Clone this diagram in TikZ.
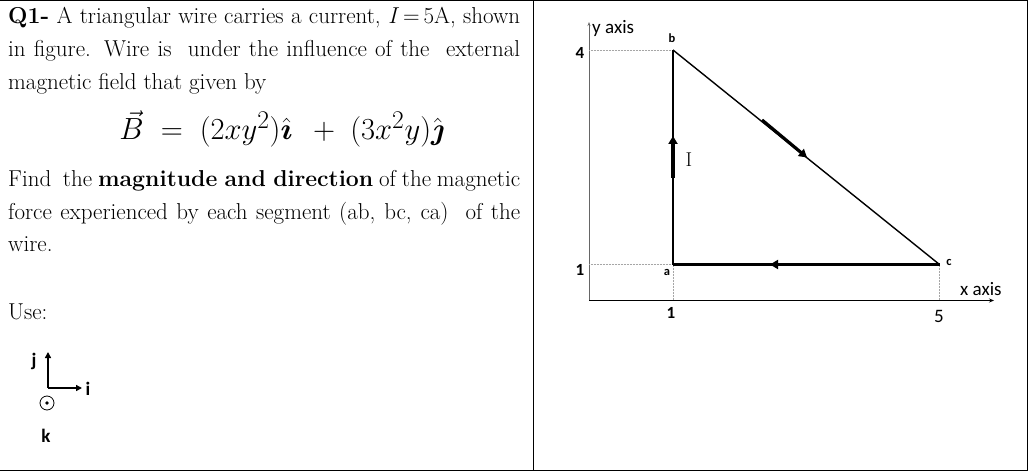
\documentclass[tikz,border=0pt]{standalone}
\usepackage{amsmath}
\usepackage{graphicx}
\usepackage{fontspec}
\newfontfamily\calfont{Carlito}
\usetikzlibrary{arrows.meta}
\newcommand\jline[1]{\hbox to 512pt{#1}}
\begin{document}
\begin{tikzpicture}[x=1pt,y=-1pt,
  ln/.style={anchor=base west,inner sep=0pt,font=\fontsize{23}{33}\selectfont},
  lab/.style={inner sep=0pt,font=\calfont\fontsize{19}{22}\selectfont},
  num/.style={inner sep=0pt,font=\calfont\bfseries\fontsize{17}{20}\selectfont},
  uv/.style={inner sep=0pt,font=\calfont\bfseries\fontsize{19}{22}\selectfont},
  vlab/.style={inner sep=0pt,font=\calfont\bfseries\fontsize{12.5}{14}\selectfont},
  guide/.style={gray!70,densely dotted,line width=0.5pt},
  wire/.style={line width=1.4pt},
  flow/.style={line width=3.2pt,-{Triangle[length=8pt,width=9pt]}},
  tbl/.style={line width=1pt}]
\useasboundingbox (0,0) rectangle (1030,473);
% table
\draw[tbl] (0,1) -- (1027.5,1) -- (1027.5,470.5) -- (0,470.5);
\draw[tbl] (533,1) -- (533,470.5);
% left text
\node[ln] (l1) at (8,24) {\jline{\textbf{Q1-} A triangular wire carries a current, \textit{I}\,=\,5A, shown}};
\node[ln] (l2) at (8,57) {\jline{in figure. Wire is \ under the influence of the \ external}};
\node[ln] (l3) at (8,90) {magnetic field that given by};
\node[anchor=base,inner sep=0pt,font=\fontsize{24.88}{30}\selectfont] (eq) at (282,140)
  {\scalebox{1.23}{$\vec{B}\;=\;(2xy^2)\hat{\boldsymbol{\imath}}\;\,+\;(3x^2y)\hat{\boldsymbol{\jmath}}$}};
\node[ln] (l4) at (8,187) {\jline{Find \ the \textbf{magnitude and direction} of the magnetic}};
\node[ln] (l5) at (8,219) {\jline{force experienced by each segment (ab, bc, ca) \ of the}};
\node[ln] (l6) at (8,251) {wire.};
\node[ln] (l7) at (8,319) {Use:};
% unit vectors
\coordinate (o) at (48,388);
\coordinate (jt) at (48,352);
\coordinate (it) at (82,388);
\draw[line width=2pt,-{Triangle[length=6pt,width=6pt]}] (o) -- (jt);
\draw[line width=2pt,-{Triangle[length=6pt,width=6pt]}] (o) -- (it);
\node[uv] (jl) at (34,361) {j};
\node[uv] (il) at (88,389) {i};
\node[draw,circle,line width=0.8pt,minimum size=14pt,inner sep=0pt] (kc) at (47,403) {};
\fill (kc.center) circle (1.8pt);
\node[uv] (kl) at (46,436) {k};
% axes
\coordinate (O) at (589,300.5);
\coordinate (ytip) at (589,22);
\coordinate (xtip) at (994,300.5);
\draw[gray!80!black,line width=0.8pt,-{Stealth[length=4pt,width=3pt]}] (O) -- (ytip);
\draw[line width=1pt,-{Stealth[length=5pt,width=4pt]}] (O) -- (xtip);
\node[lab,anchor=west] (ylab) at (592,28) {y axis};
\node[lab,anchor=west] (xlab) at (960,289) {x axis};
% triangle vertices
\coordinate (a) at (673,264.5);
\coordinate (b) at (673,50);
\coordinate (c) at (939.5,264.5);
\coordinate (y4) at (589,50);
\coordinate (y1) at (589,264.5);
\coordinate (x1) at (673,300.5);
\coordinate (x5) at (939.5,300.5);
\draw[guide] (y4) -- (b);
\draw[guide] (y1) -- (a);
\draw[guide] (a) -- (x1);
\draw[guide] (c) -- (x5);
\node[num] (n4) at (580,53) {4};
\node[num] (n1y) at (580,270) {1};
\node[num] (n1x) at (671,313) {1};
\node[lab] (n5) at (939,316) {5};
\node[vlab] (la) at (667,272) {a};
\node[vlab] (lb) at (672,38) {b};
\node[vlab] (lc) at (949,262) {c};
% wire
\draw[line width=1.8pt] (a) -- (b);
\draw[wire] (b) -- (c);
\draw[line width=2.4pt] (c) -- (a);
% current arrows
\coordinate (ab1) at (673,178);
\coordinate (ab2) at (673,136);
\draw[flow] (ab1) -- (ab2);
\node[inner sep=0pt,font=\fontsize{20}{22}\selectfont] (Il) at (689,160) {I};
\coordinate (bc1) at (762,120);
\coordinate (bc2) at (807,157.5);
\draw[flow] (bc1) -- (bc2);
\coordinate (ca1) at (821,264.5);
\coordinate (ca2) at (770,264.5);
\draw[flow] (ca1) -- (ca2);
\end{tikzpicture}
\end{document}
